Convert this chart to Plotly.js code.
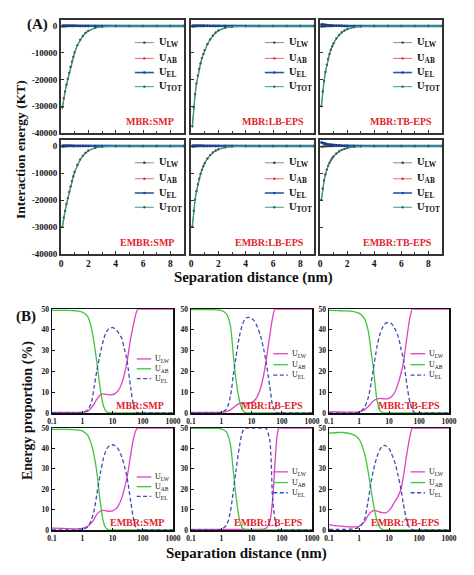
<!DOCTYPE html>
<html><head><meta charset="utf-8">
<script src="https://cdn.plot.ly/plotly-3.0.1.min.js"></script>
<style>html,body{margin:0;padding:0;background:#fff}#chart{width:474px;height:575px}</style>
</head><body><div id="chart"></div>
<script>
const W = 474, H = 575;

// ---------------- DATA ----------------
const panelNames = ['MBR:SMP', 'MBR:LB-EPS', 'MBR:TB-EPS', 'EMBR:SMP', 'EMBR:LB-EPS', 'EMBR:TB-EPS'];
const seriesA = ['U<sub>LW</sub>', 'U<sub>AB</sub>', 'U<sub>EL</sub>', 'U<sub>TOT</sub>'];
const seriesB = ['U<sub>LW</sub>', 'U<sub>AB</sub>', 'U<sub>EL</sub>'];

// (A) interaction energy (KT) vs separation distance (nm)
const xA = [0.1,0.2,0.3,0.4,0.5,0.6,0.7,0.8,0.9,1.0,1.2,1.4,1.6,1.8,2.0,2.5,3,4,5,6,7,8,9];
const totA_MBR_SMP  = [-30500,-27000,-24500,-22000,-19800,-17500,-15300,-13300,-11500,-9800,-7200,-5200,-3700,-2600,-1800,-700,-250,-40,0,0,0,0,0];
const totA_MBR_LB   = [-37500,-30500,-25500,-21500,-18500,-16000,-14000,-12000,-10500,-9000,-6800,-5000,-3600,-2500,-1700,-650,-230,-30,0,0,0,0,0];
const totA_MBR_TB   = [-30000,-24500,-20500,-17200,-14500,-12300,-10500,-8900,-7600,-6500,-4700,-3400,-2400,-1700,-1200,-450,-150,-20,0,0,0,0,0];
const totA_EMBR_SMP = [-30000,-26500,-24000,-21500,-19300,-17000,-15000,-13000,-11200,-9600,-7000,-5000,-3600,-2500,-1700,-650,-230,-30,0,0,0,0,0];
const totA_EMBR_LB  = [-29800,-24000,-19800,-16700,-14200,-12100,-10300,-8800,-7500,-6400,-4600,-3300,-2400,-1700,-1200,-450,-150,-20,0,0,0,0,0];
const totA_EMBR_TB  = [-19900,-15800,-12800,-10500,-8700,-7300,-6200,-5300,-4500,-3800,-2800,-2000,-1450,-1050,-750,-300,-100,-15,0,0,0,0,0];
const lwA           = [-250,-180,-140,-110,-90,-75,-60,-50,-42,-35,-25,-18,-13,-9,-6,-3,-1.5,-0.5,0,0,0,0,0];
const elA_flat      = [120,110,100,95,90,85,80,75,70,65,55,45,38,30,25,15,8,3,1,0,0,0,0];
const elA_MBR_TB    = [600,500,420,360,300,260,220,190,160,140,100,75,55,40,30,15,7,2,0,0,0,0,0];
const elA_EMBR_TB   = [1300,1100,950,820,700,600,520,450,390,340,260,200,150,110,80,35,15,3,0,0,0,0,0];
// U_AB lies under U_TOT in every panel (curves coincide in the figure)
const abA_MBR_SMP = totA_MBR_SMP, abA_MBR_LB = totA_MBR_LB, abA_MBR_TB = totA_MBR_TB;
const abA_EMBR_SMP = totA_EMBR_SMP, abA_EMBR_LB = totA_EMBR_LB, abA_EMBR_TB = totA_EMBR_TB;
const yTickValsA = [-40000,-30000,-20000,-10000,0];
const yTickTextA = ['-40000','-30000','-20000','-10000','0'];
const xTickValsA = [0,2,4,6,8];

// (B) energy proportion (%) vs separation distance (nm), log x
const xB = [0.1,0.2,0.3,0.5,0.7,1,1.5,2,2.5,3,4,5,6,7,8,10,12,15,20,25,30,40,50,60,70,80,100,200,500,1000];
const lwB_MBR_SMP  = [0.3,0.3,0.3,0.3,0.3,0.3,0.8,2.5,4.5,6.5,8.8,9.2,9,8.8,8.7,8.8,9.3,10.5,14,19,24.5,36,43,48,50,50,50,50,50,50];
const abB_MBR_SMP  = [49.3,49.3,49.3,49.2,49,48.5,46.5,41,33,25,11,3.5,1,0.3,0.1,0,0,0,0,0,0,0,0,0,0,0,0,0,0,0];
const elB_MBR_SMP  = [0,0,0,0,0.05,0.2,1.5,5,13,20,29,35,38.5,40,40.8,41,40.5,39,36,30.5,25.5,12,3.5,0.5,0,0,0,0,0,0];
const lwB_MBR_LB   = [0.3,0.3,0.3,0.3,0.3,0.3,0.8,1.5,2.5,3.5,4.5,4.8,4.8,4.7,4.7,5,5.8,7.5,12,18,24.5,37,46,50,50,50,50,50,50,50];
const abB_MBR_LB   = [49.7,49.7,49.7,49.7,49.6,49.3,47.5,42,28,17,6,1.5,0.3,0,0,0,0,0,0,0,0,0,0,0,0,0,0,0,0,0];
const elB_MBR_LB   = [0,0,0,0,0.1,0.3,2,8,18,26,37,42.5,45,45.8,46,45.5,44.5,42,37,31,25,13,3.5,1,0,0,0,0,0,0];
const lwB_MBR_TB   = [0.5,0.5,0.45,0.4,0.4,0.5,1.5,3,4.5,5.8,6.8,7,6.9,6.8,6.8,7,7.8,9.5,14,19,24,37,46,50,50,50,50,50,50,50];
const abB_MBR_TB   = [49.3,49.2,49.1,49,48.7,48,45.5,40,30,22,6,1,0.3,0,0,0,0,0,0,0,0,0,0,0,0,0,0,0,0,0];
const elB_MBR_TB   = [0,0,0,0,0.1,0.3,2.5,7,14,21,32,38,41,42.5,43.3,43.5,43,41,37,31,26,13,5,1.5,0.3,0,0,0,0,0];
const lwB_EMBR_SMP = [0.9,0.8,0.7,0.6,0.6,0.8,1.8,3.5,5.5,7.5,9.3,9.6,9.4,9.2,9.2,9.4,10,11.5,15.5,20.5,25.5,37,45,49,50,50,50,50,50,50];
const abB_EMBR_SMP = [49.3,49.3,49.3,49.2,49,48.6,46.5,42,36,29,13,4,1,0.3,0,0,0,0,0,0,0,0,0,0,0,0,0,0,0,0];
const elB_EMBR_SMP = [0,0,0,0,0.05,0.2,1.5,5,10,17,28,35,38.8,40.5,41.3,41.8,41.3,40,36,31,26,14,5,1.2,0.2,0,0,0,0,0];
const lwB_EMBR_LB  = [0.3,0.3,0.3,0.3,0.3,0.3,0.3,0.3,0.3,0.3,0.3,0.3,0.3,0.3,0.3,0.3,0.3,0.3,0.3,0.4,0.8,4,15,33,46,50,50,50,50,50];
const abB_EMBR_LB  = [49.8,49.8,49.8,49.8,49.8,49.6,48,42,29,18,5,1,0.2,0,0,0,0,0,0,0,0,0,0,0,0,0,0,0,0,0];
const elB_EMBR_LB  = [0,0,0,0,0.1,0.3,2.5,9,19,28,41,48,50,50,50,50,50,50,50,50,50,44,15,5,0.8,0.2,0,0,0,0];
const lwB_EMBR_TB  = [2.5,2,1.8,1.5,1.5,1.8,4,7,8.8,9.5,9.3,8.8,8.5,8.4,8.5,9.5,11,13.5,16.5,20,26,38,46,50,50,50,50,50,50,50];
const abB_EMBR_TB  = [47.5,47.8,47.8,47.3,46.5,44.5,38,29,20,13,4.5,1.2,0.3,0,0,0,0,0,0,0,0,0,0,0,0,0,0,0,0,0];
const elB_EMBR_TB  = [0.3,0.3,0.3,0.4,0.6,1.2,5,14,23,29,36,39.5,41,41.5,41.2,40,37.5,34,27,20,13,4,1,0.2,0,0,0,0,0,0];
const xTickValsB = [0.1,1,10,100,1000];
const xTickTextB = ['0.1','1','10','100','1000'];
const yTickValsB = [0,10,20,30,40,50];

// ---------------- LAYOUT HELPERS ----------------
const fx = p => p / W, fy = p => 1 - p / H;
const FONT = 'Liberation Serif, Times New Roman, serif';
const RED = '#e3242b';
const colsA = [[61,184],[191,314],[320,442]], rowsA = [[20,133],[140,254]];
const colsB = [[52,173],[191,312],[329,449]], rowsB = [[309,413],[428,530]];

const dataA = [
  [lwA, abA_MBR_SMP, elA_flat, totA_MBR_SMP],
  [lwA, abA_MBR_LB, elA_flat, totA_MBR_LB],
  [lwA, abA_MBR_TB, elA_MBR_TB, totA_MBR_TB],
  [lwA, abA_EMBR_SMP, elA_flat, totA_EMBR_SMP],
  [lwA, abA_EMBR_LB, elA_flat, totA_EMBR_LB],
  [lwA, abA_EMBR_TB, elA_EMBR_TB, totA_EMBR_TB]
];
const dataB = [
  [lwB_MBR_SMP, abB_MBR_SMP, elB_MBR_SMP],
  [lwB_MBR_LB, abB_MBR_LB, elB_MBR_LB],
  [lwB_MBR_TB, abB_MBR_TB, elB_MBR_TB],
  [lwB_EMBR_SMP, abB_EMBR_SMP, elB_EMBR_SMP],
  [lwB_EMBR_LB, abB_EMBR_LB, elB_EMBR_LB],
  [lwB_EMBR_TB, abB_EMBR_TB, elB_EMBR_TB]
];

const styleA = [
  {line:'#8a8a8a', mk:'#333333', w:1},
  {line:'#ec6a6a', mk:'#c8323a', w:1},
  {line:'#2a56a8', mk:'#1d3f86', w:2.6},
  {line:'#2fa383', mk:'#3d5d57', w:1.4}
];
const styleB = [
  {line:'#e23fc4', w:1.3, dash:'solid'},
  {line:'#3ec63e', w:1.3, dash:'solid'},
  {line:'#3a4fb5', w:1.3, dash:'4px,2.5px'}
];

const traces = [];
const layout = {
  width: W, height: H, margin: {l:0, r:0, t:0, b:0},
  paper_bgcolor: '#fff', plot_bgcolor: '#fff', showlegend: false,
  font: {family: FONT, color: '#111'},
  shapes: [], annotations: []
};
const tickFont = s => ({family: FONT, size: s, color: '#111', weight: 'bold'});

// Panel A
for (let p = 0; p < 6; p++) {
  const n = p + 1, col = p % 3, row = Math.floor(p / 3);
  const xn = n === 1 ? 'x' : 'x' + n, yn = n === 1 ? 'y' : 'y' + n;
  layout[n === 1 ? 'xaxis' : 'xaxis' + n] = {
    domain: [fx(colsA[col][0]), fx(colsA[col][1])], range: [0, 9], anchor: yn,
    showline: true, mirror: true, linecolor: '#333', linewidth: 2,
    ticks: 'inside', ticklen: 3, tickcolor: '#333', tickvals: xTickValsA,
    minor: {ticks: 'inside', ticklen: 2, dtick: 1, tickcolor: '#333'},
    showgrid: false, zeroline: false, showticklabels: row === 1, tickfont: tickFont(9.5)
  };
  layout[n === 1 ? 'yaxis' : 'yaxis' + n] = {
    domain: [fy(rowsA[row][1]), fy(rowsA[row][0])], range: [-40000, 2250], anchor: xn,
    showline: true, mirror: true, linecolor: '#333', linewidth: 2,
    ticks: 'inside', ticklen: 3, tickcolor: '#333', tickvals: yTickValsA, ticktext: yTickTextA,
    showgrid: false, zeroline: false, showticklabels: col === 0, tickfont: tickFont(9)
  };
  for (let s = 0; s < 4; s++) {
    const st = styleA[s];
    traces.push({
      type: 'scatter', mode: 'lines+markers', x: xA, y: dataA[p][s], xaxis: xn, yaxis: yn,
      name: seriesA[s], line: {color: st.line, width: st.w},
      marker: {color: st.mk, size: s === 2 ? 2.5 : 2.2}, hoverinfo: 'skip'
    });
  }
  const legY = [0.80, 0.66, 0.535, 0.41];
  for (let s = 0; s < 4; s++) {
    const st = styleA[s];
    layout.shapes.push({type: 'line', xref: xn + ' domain', yref: yn + ' domain',
      x0: 0.6, x1: 0.755, y0: legY[s], y1: legY[s], line: {color: st.line, width: s === 2 ? 1.6 : 1}});
    layout.shapes.push({type: 'circle', xref: xn + ' domain', yref: yn + ' domain',
      xsizemode: 'pixel', ysizemode: 'pixel', xanchor: 0.6775, yanchor: legY[s],
      x0: -1.2, x1: 1.2, y0: -1.2, y1: 1.2, fillcolor: st.mk, line: {width: 0}});
    layout.annotations.push({xref: xn + ' domain', yref: yn + ' domain', x: 0.78, y: legY[s],
      xanchor: 'left', yanchor: 'middle', showarrow: false, text: '<b>' + seriesA[s] + '</b>',
      font: {family: FONT, size: 10.5, color: '#111'}});
  }
  layout.annotations.push({xref: xn + ' domain', yref: yn + ' domain', x: 0.935, y: 0.1,
    xanchor: 'right', yanchor: 'middle', showarrow: false, text: '<b>' + panelNames[p] + '</b>',
    font: {family: FONT, size: 10, color: RED}});
}

// Panel B
for (let p = 0; p < 6; p++) {
  const n = p + 7, col = p % 3, row = Math.floor(p / 3);
  const xn = 'x' + n, yn = 'y' + n;
  layout['xaxis' + n] = {
    domain: [fx(colsB[col][0]), fx(colsB[col][1])], type: 'log', range: [-1, 3], anchor: yn,
    showline: true, mirror: true, linecolor: '#111', linewidth: 1.5,
    ticks: 'inside', ticklen: 2.5, tickcolor: '#111', tickvals: xTickValsB, ticktext: xTickTextB,
    showgrid: false, zeroline: false, tickfont: tickFont(7.5)
  };
  layout['yaxis' + n] = {
    domain: [fy(rowsB[row][1]), fy(rowsB[row][0])], range: [0, 50], anchor: xn,
    showline: true, mirror: true, linecolor: '#111', linewidth: 1.5,
    ticks: 'inside', ticklen: 2.5, tickcolor: '#111', tickvals: yTickValsB,
    showgrid: false, zeroline: false, tickfont: tickFont(7.5)
  };
  for (let s = 0; s < 3; s++) {
    const st = styleB[s];
    traces.push({
      type: 'scatter', mode: 'lines', x: xB, y: dataB[p][s], xaxis: xn, yaxis: yn,
      name: seriesB[s], line: {color: st.line, width: st.w, dash: st.dash, shape: 'spline', smoothing: 0.8},
      hoverinfo: 'skip'
    });
  }
  const legY = col === 0 ? [0.52, 0.425, 0.33] : [0.57, 0.465, 0.365];
  const lx0 = col === 0 ? 0.7 : 0.68, lx1 = col === 0 ? 0.82 : 0.8, tx = col === 0 ? 0.835 : 0.815;
  for (let s = 0; s < 3; s++) {
    const st = styleB[s];
    layout.shapes.push({type: 'line', xref: xn + ' domain', yref: yn + ' domain',
      x0: lx0, x1: lx1, y0: legY[s], y1: legY[s], line: {color: st.line, width: 1.3, dash: st.dash}});
    layout.annotations.push({xref: xn + ' domain', yref: yn + ' domain', x: tx, y: legY[s],
      xanchor: 'left', yanchor: 'middle', showarrow: false, text: seriesB[s],
      font: {family: FONT, size: 8, color: '#111'}});
  }
  layout.annotations.push({xref: xn + ' domain', yref: yn + ' domain', x: 0.94, y: 0.07,
    xanchor: 'right', yanchor: 'middle', showarrow: false, text: '<b>' + panelNames[p] + '</b>',
    font: {family: FONT, size: 10, color: RED}});
}

// Figure titles
const big = (t, x, y, s, ang) => ({xref: 'paper', yref: 'paper', x: fx(x), y: fy(y), xanchor: 'center', yanchor: 'middle',
  showarrow: false, text: '<b>' + t + '</b>', textangle: ang || 0, font: {family: FONT, size: s, color: '#111'}});
layout.annotations.push(big('(A)', 37, 24, 15));
layout.annotations.push(big('(B)', 26, 316, 15));
layout.annotations.push(big('Interaction energy (KT)', 20, 150, 13.5, -90));
layout.annotations.push(big('Separation distance (nm)', 253, 277, 14.8));
layout.annotations.push(big('Energy proportion (%)', 28, 411, 14, -90));
layout.annotations.push(big('Separation distance (nm)', 247, 553, 15));

Plotly.newPlot('chart', traces, layout, {displayModeBar: false, staticPlot: true});
</script>
</body></html>
